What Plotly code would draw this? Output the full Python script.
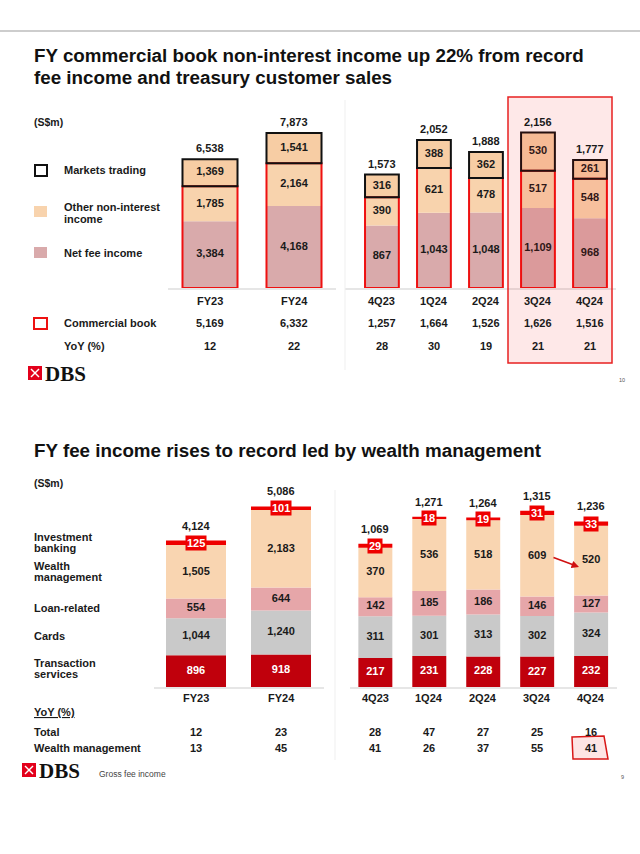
import plotly.graph_objects as go

# ---------------- DATA ----------------
# Top slide: commercial book non-interest income (S$m)
top_fy_cats = ["FY23", "FY24"]
top_fy_netfee = [3384, 4168]
top_fy_other = [1785, 2164]
top_fy_markets = [1369, 1541]
top_fy_total = [6538, 7873]
top_fy_commercial = [5169, 6332]
top_fy_yoy = [12, 22]

top_q_cats = ["4Q23", "1Q24", "2Q24", "3Q24", "4Q24"]
top_q_netfee = [867, 1043, 1048, 1109, 968]
top_q_other = [390, 621, 478, 517, 548]
top_q_markets = [316, 388, 362, 530, 261]
top_q_total = [1573, 2052, 1888, 2156, 1777]
top_q_commercial = [1257, 1664, 1526, 1626, 1516]
top_q_yoy = [28, 30, 19, 21, 21]

# Bottom slide: gross fee income (S$m)
bot_fy_cats = ["FY23", "FY24"]
bot_fy_ts = [896, 918]
bot_fy_cards = [1044, 1240]
bot_fy_loan = [554, 644]
bot_fy_wm = [1505, 2183]
bot_fy_ib = [125, 101]
bot_fy_total = [4124, 5086]
bot_fy_yoy_total = [12, 23]
bot_fy_yoy_wm = [13, 45]

bot_q_cats = ["4Q23", "1Q24", "2Q24", "3Q24", "4Q24"]
bot_q_ts = [217, 231, 228, 227, 232]
bot_q_cards = [311, 301, 313, 302, 324]
bot_q_loan = [142, 185, 186, 146, 127]
bot_q_wm = [370, 536, 518, 609, 520]
bot_q_ib = [29, 18, 19, 31, 33]
bot_q_total = [1069, 1271, 1264, 1315, 1236]
bot_q_yoy_total = [28, 47, 27, 25, 16]
bot_q_yoy_wm = [41, 26, 37, 55, 41]

# ---------------- STYLE ----------------
W, H = 640, 854
FONT = "Liberation Sans, Arial, sans-serif"
C_NETFEE = "#D9AAAB"
C_OTHER = "#F8D3AD"
C_MARKETS = "#F7CDA4"
C_TS = "#C0000C"
C_CARDS = "#C9C9C9"
C_LOAN = "#E6A6A9"
C_WM = "#F9D5B1"
C_IB = "#EE0000"
AXLINE = "#E6E6E6"


def X(px):
    return px / W


def Y(py):
    return 1 - py / H


def fmt(v):
    return f"{v:,}"


fig = go.Figure()

axes = {
    "1": dict(xd=(168, 336), xr=(-0.5, 1.5), yb=288, yt=100, scale=0.0197),
    "2": dict(xd=(345, 616), xr=(-0.71, 4.5), yb=288, yt=100, scale=0.0721),
    "3": dict(xd=(153.5, 323.5), xr=(-0.5, 1.5), yb=687, yt=490, scale=0.0355),
    "4": dict(xd=(350, 617), xr=(-0.47, 4.48), yb=687, yt=490, scale=0.134),
}
layout_axes = {}
for k, a in axes.items():
    xname = "xaxis" if k == "1" else f"xaxis{k}"
    yname = "yaxis" if k == "1" else f"yaxis{k}"
    layout_axes[xname] = dict(domain=[X(a["xd"][0]), X(a["xd"][1])], range=list(a["xr"]),
                              anchor="y" if k == "1" else f"y{k}",
                              showgrid=False, zeroline=False, showticklabels=False,
                              ticks="", showline=True, linecolor=AXLINE, linewidth=1.5,
                              fixedrange=True)
    layout_axes[yname] = dict(domain=[Y(a["yb"]), Y(a["yt"])],
                              range=[0, (a["yb"] - a["yt"]) / a["scale"]],
                              anchor="x" if k == "1" else f"x{k}",
                              showgrid=False, zeroline=False, showticklabels=False,
                              ticks="", showline=False, fixedrange=True)


def ax_ref(k):
    return ("x", "y") if k == "1" else (f"x{k}", f"y{k}")


annotations = []
shapes = []


def add_text(x, y, text, size=11, color="#1a1a1a", xanchor="center", xref="paper", yref="paper",
             bold=True, yshift=0, family=FONT, **kw):
    t = f"<b>{text}</b>" if bold else text
    annotations.append(dict(x=x, y=y, xref=xref, yref=yref, text=t, showarrow=False,
                            xanchor=xanchor, yanchor="middle", yshift=yshift,
                            font=dict(family=family, size=size, color=color), **kw))


def stack_bars(k, cats, series, width):
    xr, yr = ax_ref(k)
    idx = list(range(len(cats)))
    base = [0] * len(cats)
    bases = []
    for vals, color, tcolor, show in series:
        fig.add_trace(go.Bar(x=idx, y=vals, base=base, width=width, xaxis=xr, yaxis=yr,
                             marker=dict(color=color, line=dict(width=0)), showlegend=False,
                             hoverinfo="skip"))
        mids = [b + v / 2 for b, v in zip(base, vals)]
        if show:
            fig.add_trace(go.Scatter(x=idx, y=mids, mode="text", xaxis=xr, yaxis=yr,
                                     text=[f"<b>{fmt(v)}</b>" for v in vals],
                                     textfont=dict(family=FONT, size=11, color=tcolor),
                                     showlegend=False, hoverinfo="skip", cliponaxis=False))
        bases.append(list(base))
        base = [b + v for b, v in zip(base, vals)]
    return bases, base


# ---------- TOP ----------
for k, cats, nf, ot, mk, tot, cb, w in [
    ("1", top_fy_cats, top_fy_netfee, top_fy_other, top_fy_markets, top_fy_total, top_fy_commercial, 0.655),
    ("2", top_q_cats, top_q_netfee, top_q_other, top_q_markets, top_q_total, top_q_commercial, 0.65),
]:
    xr, yr = ax_ref(k)
    idx = list(range(len(cats)))
    bases, top = stack_bars(k, cats, [(nf, C_NETFEE, "#1a1a1a", True),
                                      (ot, C_OTHER, "#1a1a1a", True),
                                      (mk, C_MARKETS, "#1a1a1a", True)], w)
    fig.add_trace(go.Bar(x=idx, y=cb, base=[0] * len(cats), width=w, xaxis=xr, yaxis=yr,
                         marker=dict(color="rgba(0,0,0,0)", line=dict(color="#EE1111", width=2)),
                         showlegend=False, hoverinfo="skip"))
    fig.add_trace(go.Bar(x=idx, y=mk, base=cb, width=w, xaxis=xr, yaxis=yr,
                         marker=dict(color="rgba(0,0,0,0)", line=dict(color="#111111", width=2)),
                         showlegend=False, hoverinfo="skip"))
    for i, t in enumerate(tot):
        add_text(i, t, fmt(t), xref=xr, yref=yr, yshift=11)

top_rows = [(top_fy_cats, top_fy_commercial, top_fy_yoy, "x"),
            (top_q_cats, top_q_commercial, top_q_yoy, "x2")]
for cats, cb, yoy, xr in top_rows:
    for i, c in enumerate(cats):
        add_text(i, Y(301), c, xref=xr)
        add_text(i, Y(323), fmt(cb[i]), xref=xr)
        add_text(i, Y(346), str(yoy[i]), xref=xr)

# ---------- BOTTOM ----------
for k, cats, ts, cd, ln, wm, ib, tot, w in [
    ("3", bot_fy_cats, bot_fy_ts, bot_fy_cards, bot_fy_loan, bot_fy_wm, bot_fy_ib, bot_fy_total, 0.706),
    ("4", bot_q_cats, bot_q_ts, bot_q_cards, bot_q_loan, bot_q_wm, bot_q_ib, bot_q_total, 0.63),
]:
    xr, yr = ax_ref(k)
    bases, top = stack_bars(k, cats, [(ts, C_TS, "white", True),
                                      (cd, C_CARDS, "#1a1a1a", True),
                                      (ln, C_LOAN, "#1a1a1a", True),
                                      (wm, C_WM, "#1a1a1a", True),
                                      (ib, C_IB, "white", False)], w)
    for i, v in enumerate(ib):
        annotations.append(dict(x=i, y=bases[4][i] + v / 2, xref=xr, yref=yr,
                                text=f"<b>{v}</b>", showarrow=False, bgcolor=C_IB,
                                borderpad=1, xanchor="center", yanchor="middle",
                                font=dict(family=FONT, size=11, color="white")))
    for i, t in enumerate(tot):
        add_text(i, t, fmt(t), xref=xr, yref=yr, yshift=15)

bot_rows = [(bot_fy_cats, bot_fy_yoy_total, bot_fy_yoy_wm, "x3"),
            (bot_q_cats, bot_q_yoy_total, bot_q_yoy_wm, "x4")]
for cats, yt, yw, xr in bot_rows:
    for i, c in enumerate(cats):
        add_text(i, Y(698), c, xref=xr)
        add_text(i, Y(732), str(yt[i]), xref=xr)
        add_text(i, Y(748), str(yw[i]), xref=xr)

# ---------- DECORATIONS ----------
shapes.append(dict(type="line", xref="paper", yref="paper", x0=0, x1=1, y0=Y(31), y1=Y(31),
                   line=dict(color="#BDBDBD", width=1.5)))
shapes.append(dict(type="line", xref="paper", yref="paper", x0=X(345), x1=X(345), y0=Y(100), y1=Y(370),
                   line=dict(color="#EFEFEF", width=1)))
shapes.append(dict(type="line", xref="paper", yref="paper", x0=X(335), x1=X(335), y0=Y(490), y1=Y(760),
                   line=dict(color="#EFEFEF", width=1)))
shapes.append(dict(type="rect", xref="paper", yref="paper", x0=X(508), x1=X(612), y0=Y(363), y1=Y(97),
                   fillcolor="rgba(240,0,0,0.09)", line=dict(color="#E82020", width=1.5), layer="above"))
path = (f"M {X(572)},{Y(737)} L {X(604)},{Y(736)} L {X(608)},{Y(759)} L {X(573)},{Y(759)} Z")
shapes.append(dict(type="path", xref="paper", yref="paper", path=path,
                   fillcolor="rgba(240,0,0,0.10)", line=dict(color="#D81818", width=1.5), layer="below"))
annotations.append(dict(x=X(579), y=Y(567), ax=-27, ay=-10, xref="paper", yref="paper",
                        axref="pixel", ayref="pixel", text="", showarrow=True, arrowhead=2,
                        arrowsize=1, arrowwidth=1.5, arrowcolor="#D01010"))

add_text(X(32), Y(56), "FY commercial book non-interest income up 22% from record", size=18.8,
         xanchor="left", color="#111111")
add_text(X(32), Y(78), "fee income and treasury customer sales", size=18.8, xanchor="left", color="#111111")
add_text(X(32), Y(450), "FY fee income rises to record led by wealth management", size=18.8,
         xanchor="left", color="#111111")

add_text(X(32), Y(122), "(S$m)", size=10.5, xanchor="left")
shapes.append(dict(type="rect", xref="paper", yref="paper", x0=X(35), x1=X(47), y0=Y(176), y1=Y(165),
                   line=dict(color="#111111", width=2), fillcolor="white"))
add_text(X(62), Y(170), "Markets trading", size=11, xanchor="left")
shapes.append(dict(type="rect", xref="paper", yref="paper", x0=X(34), x1=X(47), y0=Y(217), y1=Y(206),
                   line=dict(width=0), fillcolor=C_OTHER))
add_text(X(62), Y(207), "Other non-interest", size=11, xanchor="left")
add_text(X(62), Y(219), "income", size=11, xanchor="left")
shapes.append(dict(type="rect", xref="paper", yref="paper", x0=X(34), x1=X(47), y0=Y(258), y1=Y(247),
                   line=dict(width=0), fillcolor=C_NETFEE))
add_text(X(62), Y(253), "Net fee income", size=11, xanchor="left")
shapes.append(dict(type="rect", xref="paper", yref="paper", x0=X(34), x1=X(47), y0=Y(329), y1=Y(318),
                   line=dict(color="#EE1111", width=2), fillcolor="white"))
add_text(X(62), Y(323), "Commercial book", size=11, xanchor="left")
add_text(X(62), Y(346), "YoY (%)", size=11, xanchor="left")

add_text(X(32), Y(483), "(S$m)", size=10.5, xanchor="left")
for txt, py in [("Investment", 537), ("banking", 548), ("Wealth", 566), ("management", 577),
                ("Loan-related", 608), ("Cards", 636), ("Transaction", 663), ("services", 674),
                ("Total", 732), ("Wealth management", 748)]:
    add_text(X(32), Y(py), txt, size=11, xanchor="left")
add_text(X(32), Y(712), "<u>YoY (%)</u>", size=11, xanchor="left")


def dbs_logo(x0, yc):
    s = 14
    shapes.append(dict(type="rect", xref="paper", yref="paper", x0=X(x0), x1=X(x0 + s),
                       y0=Y(yc + s / 2), y1=Y(yc - s / 2), fillcolor="#E3001B", line=dict(width=0)))
    for (a, b, c, d) in [(x0 + 3, yc - s / 2 + 3, x0 + s - 3, yc + s / 2 - 3),
                         (x0 + 3, yc + s / 2 - 3, x0 + s - 3, yc - s / 2 + 3)]:
        shapes.append(dict(type="line", xref="paper", yref="paper", x0=X(a), y0=Y(b), x1=X(c), y1=Y(d),
                           line=dict(color="white", width=1.5)))
    add_text(X(x0 + 15), Y(yc + 1), "DBS", size=21, xanchor="left", bold=True,
             family="Liberation Serif, Times New Roman, serif", color="#111111")


dbs_logo(28, 373)
dbs_logo(22, 770)
add_text(X(97), Y(774), "Gross fee income", size=8.5, xanchor="left", bold=False, color="#444444")
add_text(X(622), Y(380), "10", size=5.5, bold=False, color="#555555")
add_text(X(622), Y(777), "9", size=5.5, bold=False, color="#555555")

fig.update_layout(width=W, height=H, margin=dict(l=0, r=0, t=0, b=0),
                  paper_bgcolor="white", plot_bgcolor="rgba(0,0,0,0)",
                  barmode="overlay", showlegend=False,
                  annotations=annotations, shapes=shapes, **layout_axes)

fig.write_html("out.html", config={"displayModeBar": False},
               post_script="document.body.style.margin='0';")
